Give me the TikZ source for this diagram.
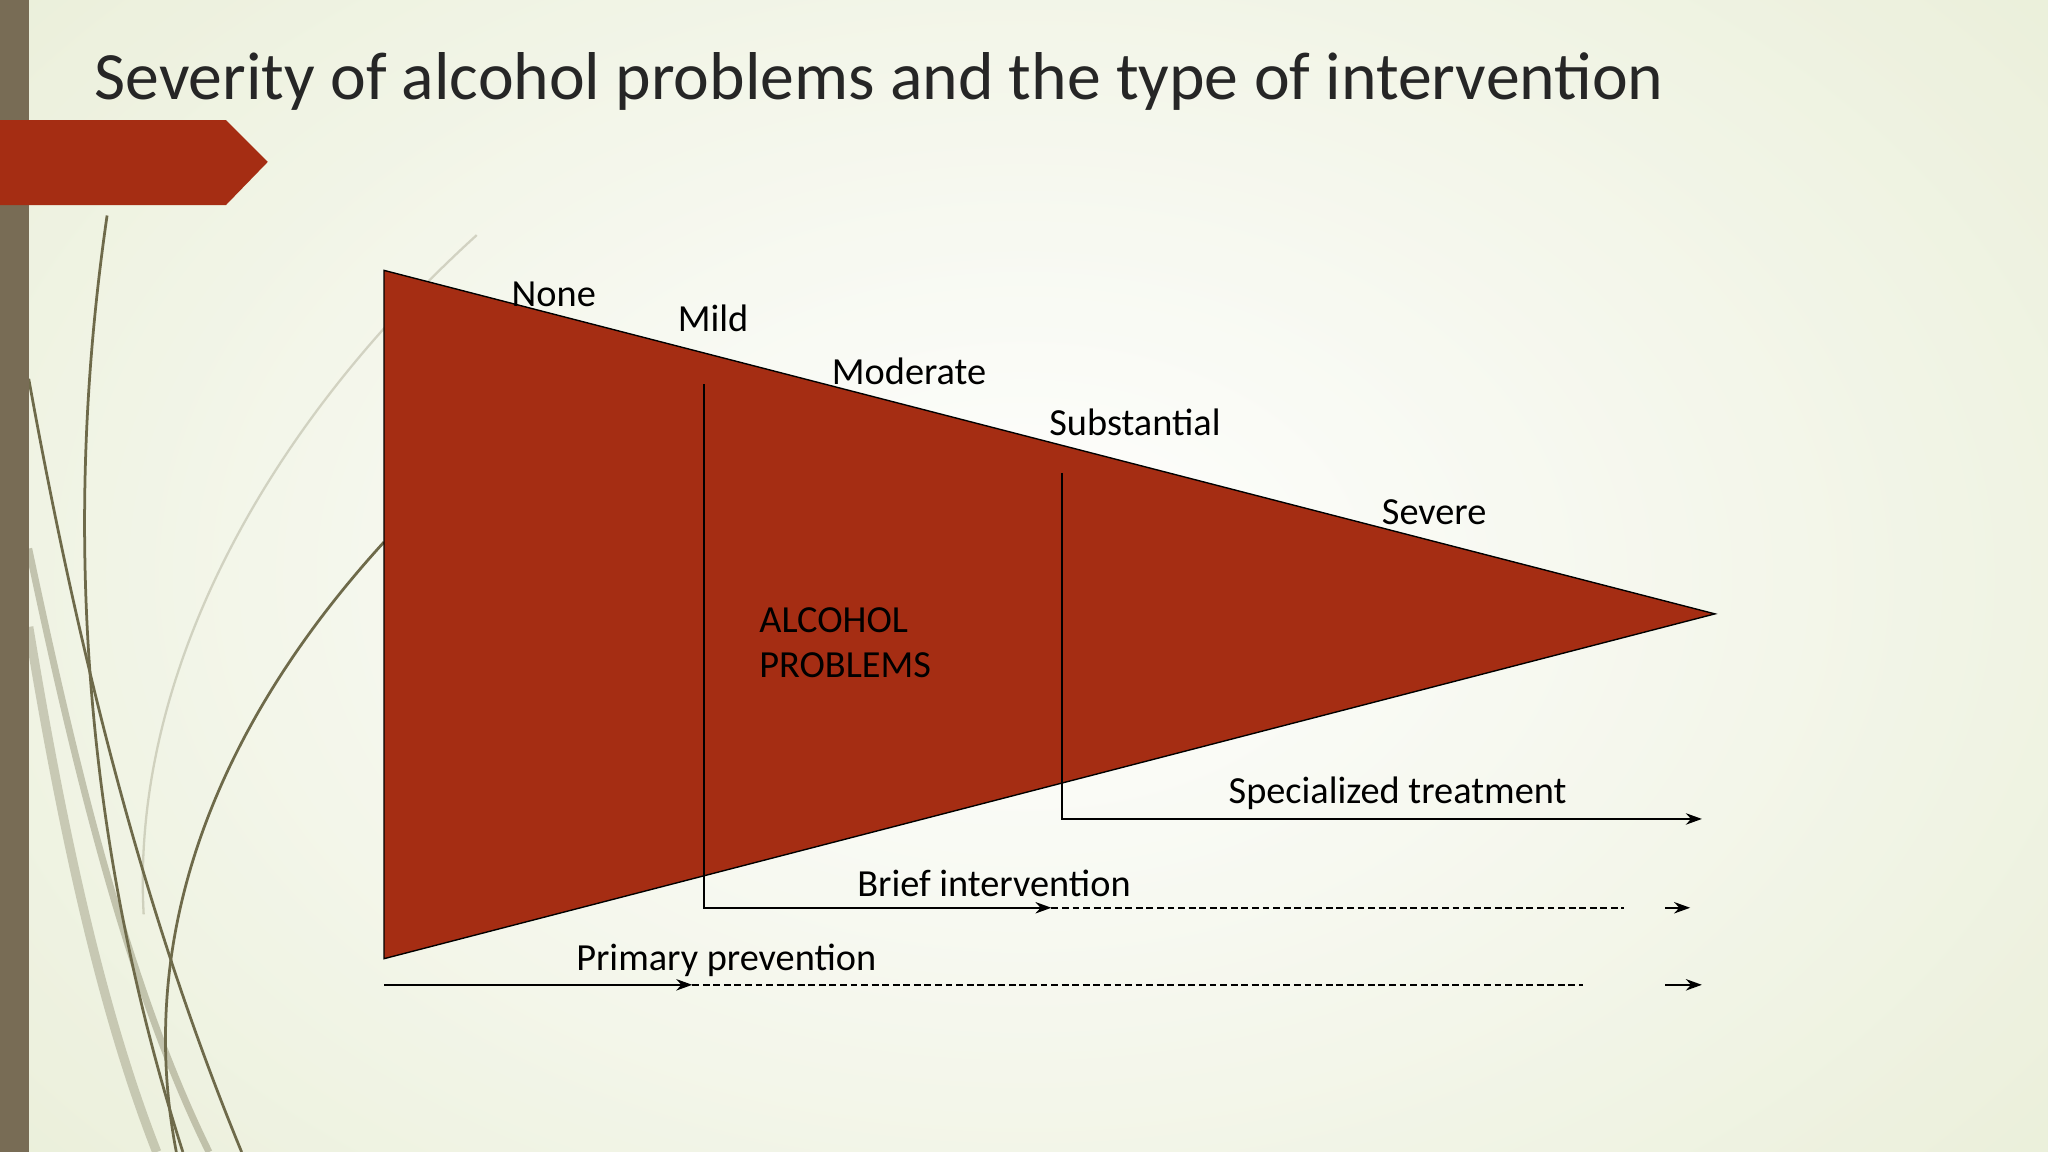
\documentclass[tikz,border=0pt]{standalone}
\usepackage{fontspec}
\setmainfont{Carlito}
\usetikzlibrary{arrows.meta}
\definecolor{rust}{HTML}{A52D13}
\definecolor{bar}{HTML}{786C55}
\definecolor{olive}{HTML}{6E6A4A}
\definecolor{bgout}{HTML}{DCE4BF}
\tikzset{lbl/.style={font=\fontsize{16.7}{20}\selectfont,text=black,inner sep=0pt},
 conn/.style={draw=black,line width=0.7pt},
 arr/.style={conn,-{Stealth[length=7pt,width=5pt]}},
 dsh/.style={draw=black,line width=0.7pt,dash pattern=on 3pt off 1.6pt}}
\begin{document}
\begin{tikzpicture}[x=0.02cm,y=-0.02cm]
\useasboundingbox (0,0) rectangle (1568,882);
\shade[inner color=white,outer color=bgout] (-300,-300) rectangle (1868,1182);
\fill[white,opacity=0.4] (0,0) rectangle (1568,882);
% decorative curves
\begin{scope}[olive,line width=1.2pt]
\draw (82,165) .. controls (55,350) and (50,600) .. (140,882);
\draw (22,290) .. controls (60,500) and (110,700) .. (185,882);
\draw (294,415) .. controls (180,540) and (100,700) .. (135,882);
\draw[opacity=0.35,line width=3pt] (22,420) .. controls (60,600) and (100,760) .. (160,882);
\draw[opacity=0.25,line width=1pt] (365,180) .. controls (200,330) and (100,520) .. (110,700);
\draw[opacity=0.3,line width=4pt] (22,480) .. controls (50,650) and (80,780) .. (120,882);
\end{scope}
\fill[bar] (0,0) rectangle (22,882);
\fill[rust] (0,92) -- (173,92) -- (205,124) -- (173,157) -- (0,157) -- cycle;
\node[anchor=west,inner sep=0pt,text=black!85,font=\fontsize{29.5}{34}\selectfont] (title) at (72,62) {Severity of alcohol problems and the type of intervention};
% triangle
\coordinate (t1) at (294,207); \coordinate (t2) at (1313,470); \coordinate (t3) at (294,734);
\filldraw[fill=rust,draw=black,line width=0.6pt] (t1) -- (t2) -- (t3) -- cycle;
\node[lbl] (none) at (424,225) {None};
\node[lbl] (mild) at (546,244) {Mild};
\node[lbl] (mod) at (696,284) {Moderate};
\node[lbl] (sub) at (869,323) {Substantial};
\node[lbl] (sev) at (1098,392) {Severe};
\node[lbl,align=left,anchor=west,font=\fontsize{16.7}{19.9}\selectfont] (alc) at (581,492) {ALCOHOL\\PROBLEMS};
% connectors
\coordinate (b0) at (539,294); \coordinate (b1) at (539,695); \coordinate (b2) at (805,695);
\coordinate (b3) at (1243,695); \coordinate (b4) at (1275,695); \coordinate (b5) at (1294,695);
\draw[arr] (b0) -- (b1) -- (b2);
\draw[dsh] (b2) -- (b3);
\draw[arr] (b4) -- (b5);
\coordinate (s0) at (813,362); \coordinate (s1) at (813,627); \coordinate (s2) at (1303,627);
\draw[arr] (s0) -- (s1) -- (s2);
\coordinate (p0) at (294,754); \coordinate (p1) at (530,754); \coordinate (p2) at (1212,754);
\coordinate (p3) at (1275,754); \coordinate (p4) at (1303,754);
\draw[arr] (p0) -- (p1);
\draw[dsh] (p1) -- (p2);
\draw[arr] (p3) -- (p4);
\node[lbl] (spec) at (1070,607) {Specialized treatment};
\node[lbl] (brief) at (761,676) {Brief intervention};
\node[lbl] (prim) at (556,735) {Primary prevention};
\end{tikzpicture}
\end{document}
